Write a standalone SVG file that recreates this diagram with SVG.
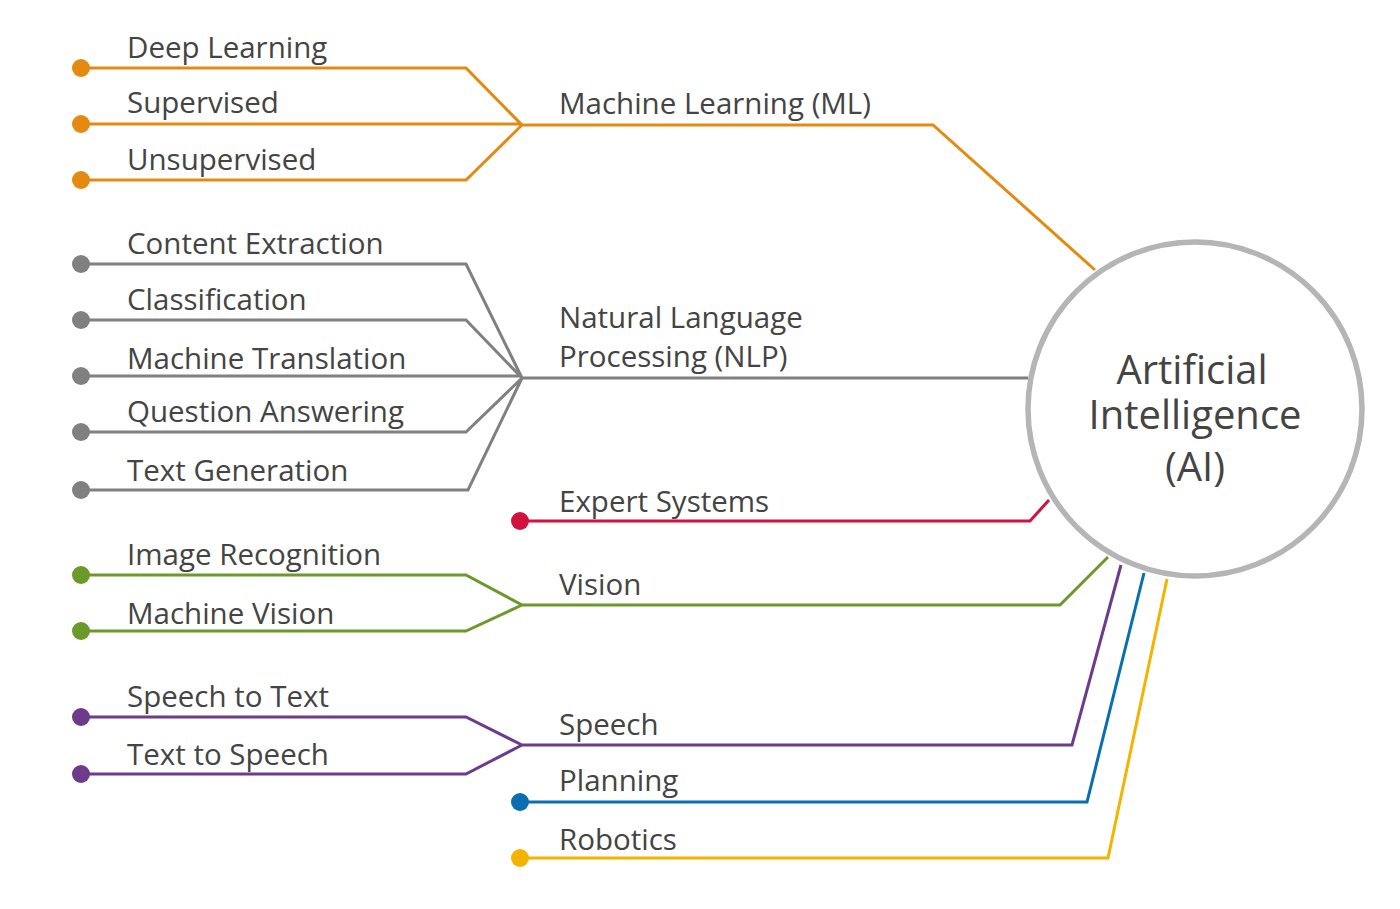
<svg xmlns="http://www.w3.org/2000/svg" width="1400" height="909" viewBox="0 0 1400 909">
<style>
.t{font-family:"Open Sans","Noto Sans","Liberation Sans",sans-serif;font-size:29.5px;fill:#444}
.c{font-family:"Open Sans","Noto Sans","Liberation Sans",sans-serif;font-size:40px;fill:#444;text-anchor:middle}
.l{fill:none;stroke-width:3;stroke-linejoin:miter}
.or{stroke:#e58a10}.orf{fill:#e58a10}
.gr{stroke:#808080}.grf{fill:#808080}
.rd{stroke:#d2113c}.rdf{fill:#d2113c}
.gn{stroke:#6b9a2a}.gnf{fill:#6b9a2a}
.pu{stroke:#6e3a8c}.puf{fill:#6e3a8c}
.bl{stroke:#0a6fb0}.blf{fill:#0a6fb0}
.ye{stroke:#f2b400}.yef{fill:#f2b400}
</style>
<rect width="1400" height="909" fill="#fff"/>
<g id="connectors">
<path class="l or" d="M81,68 H466 L522,125 M81,124 H522 M81,180 H466 L522,125 M522,125 H933 L1095,270"/>
<path class="l gr" d="M81,264 H466 L522,378 M81,320 H466 L522,378 M81,376 H522 M81,432 H466 L522,378 M81,490 H468 L522,378 M522,378 H1028"/>
<path class="l rd" d="M520,521 H1030 L1049,500"/>
<path class="l gn" d="M81,575 H466 L522,605 M81,631 H466 L522,605 M522,605 H1060 L1108,557"/>
<path class="l pu" d="M81,717 H466 L522,745 M81,774 H466 L522,745 M522,745 H1072 L1121,565"/>
<path class="l bl" d="M520,802 H1087 L1144,573"/>
<path class="l ye" d="M520,858 H1108 L1167,579"/>
</g>
<g id="ai">
<circle cx="1195" cy="409" r="167" fill="#fff" stroke="#b5b5b5" stroke-width="5.5"/>
<text class="c" x="1192" y="384">Artificial</text>
<text class="c" x="1195" y="429">Intelligence</text>
<text class="c" x="1195" y="481">(AI)</text>
</g>
<g id="ml">
<text class="t" x="559" y="114">Machine Learning (ML)</text>
</g>
<g id="deep-learning"><circle class="orf" cx="81" cy="68" r="9"/><text class="t" x="127" y="58">Deep Learning</text></g>
<g id="supervised"><circle class="orf" cx="81" cy="124" r="9"/><text class="t" x="127" y="113">Supervised</text></g>
<g id="unsupervised"><circle class="orf" cx="81" cy="180" r="9"/><text class="t" x="127" y="170">Unsupervised</text></g>
<g id="nlp">
<text class="t" x="559" y="328">Natural Language</text>
<text class="t" x="559" y="367">Processing (NLP)</text>
</g>
<g id="content-extraction"><circle class="grf" cx="81" cy="264" r="9"/><text class="t" x="127" y="254">Content Extraction</text></g>
<g id="classification"><circle class="grf" cx="81" cy="320" r="9"/><text class="t" x="127" y="310">Classification</text></g>
<g id="machine-translation"><circle class="grf" cx="81" cy="376" r="9"/><text class="t" x="127" y="369">Machine Translation</text></g>
<g id="question-answering"><circle class="grf" cx="81" cy="432" r="9"/><text class="t" x="127" y="422">Question Answering</text></g>
<g id="text-generation"><circle class="grf" cx="81" cy="490" r="9"/><text class="t" x="127" y="481">Text Generation</text></g>
<g id="expert-systems"><circle class="rdf" cx="520" cy="521" r="9"/><text class="t" x="559" y="512">Expert Systems</text></g>
<g id="vision"><text class="t" x="559" y="595">Vision</text></g>
<g id="image-recognition"><circle class="gnf" cx="81" cy="575" r="9"/><text class="t" x="127" y="565">Image Recognition</text></g>
<g id="machine-vision"><circle class="gnf" cx="81" cy="631" r="9"/><text class="t" x="127" y="624">Machine Vision</text></g>
<g id="speech"><text class="t" x="559" y="735">Speech</text></g>
<g id="speech-to-text"><circle class="puf" cx="81" cy="717" r="9"/><text class="t" x="127" y="707">Speech to Text</text></g>
<g id="text-to-speech"><circle class="puf" cx="81" cy="774" r="9"/><text class="t" x="127" y="765">Text to Speech</text></g>
<g id="planning"><circle class="blf" cx="520" cy="802" r="9"/><text class="t" x="559" y="791">Planning</text></g>
<g id="robotics"><circle class="yef" cx="520" cy="858" r="9"/><text class="t" x="559" y="850">Robotics</text></g>
</svg>
